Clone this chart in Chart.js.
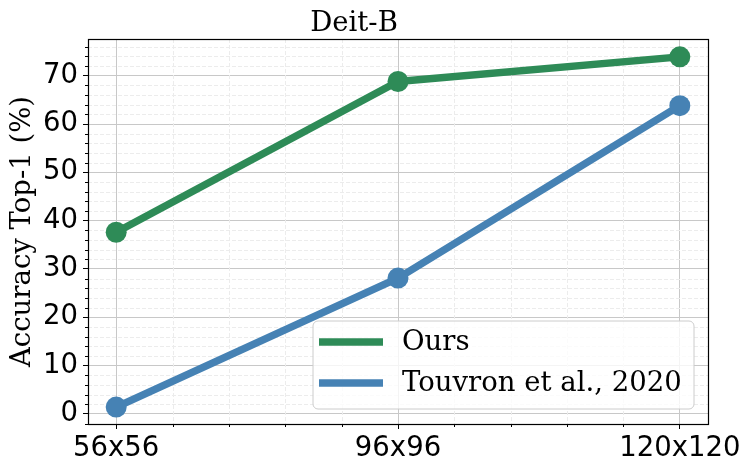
<!DOCTYPE html>
<html>
<head>
<meta charset="utf-8">
<script src="https://cdn.jsdelivr.net/npm/chart.js@4/dist/chart.umd.min.js"></script>
<style>
html,body{margin:0;padding:0;background:#fff;}
#wrap{width:751px;height:472px;}
</style>
</head>
<body>
<div id="wrap"><canvas id="c" width="751" height="472"></canvas></div>
<script>
const categories = ['56x56', '96x96', '120x120'];
const oursValues = [37.6, 68.8, 73.9];
const touvronValues = [1.4, 28.1, 63.8];
const yTicks = [0, 10, 20, 30, 40, 50, 60, 70];
const seriesLabels = ['Ours', 'Touvron et al., 2020'];
const seriesColors = ['#2e8b57', '#4682b4'];
const chartTitle = 'Deit-B';
const yAxisTitle = 'Accuracy Top-1 (%)';

const serif = "'DejaVu Serif', serif";
const sans = "'DejaVu Sans', sans-serif";

const toPoints = vals => vals.map((v, i) => ({x: i, y: v}));

const minorGrid = {
  id: 'minorGrid',
  beforeDatasetsDraw(chart) {
    const {ctx, chartArea: a, scales: {x, y}} = chart;
    ctx.save();
    ctx.strokeStyle = '#ececec';
    ctx.lineWidth = 1;
    ctx.setLineDash([4, 2]);
    const xs = [], ys = [];
    for (let k = -1; k <= 11; k++) { if (k % 5 !== 0) xs.push(k * 0.2); }
    for (let k = -1; k <= 39; k++) { if (k % 5 !== 0) ys.push(k * 2); }
    xs.forEach(v => {
      if (v < x.min || v > x.max) return;
      const px = Math.round(x.getPixelForValue(v)) + 0.5;
      ctx.beginPath(); ctx.moveTo(px, a.top); ctx.lineTo(px, a.bottom); ctx.stroke();
    });
    ys.forEach(v => {
      if (v < y.min || v > y.max) return;
      const py = Math.round(y.getPixelForValue(v)) + 0.5;
      ctx.beginPath(); ctx.moveTo(a.left, py); ctx.lineTo(a.right, py); ctx.stroke();
    });
    ctx.setLineDash([]);
    ctx.strokeStyle = '#000';
    xs.forEach(v => {
      if (v < x.min || v > x.max) return;
      const px = Math.round(x.getPixelForValue(v)) + 0.5;
      ctx.beginPath(); ctx.moveTo(px, a.bottom); ctx.lineTo(px, a.bottom + 3); ctx.stroke();
    });
    ys.forEach(v => {
      if (v < y.min || v > y.max) return;
      const py = Math.round(y.getPixelForValue(v)) + 0.5;
      ctx.beginPath(); ctx.moveTo(a.left, py); ctx.lineTo(a.left - 3, py); ctx.stroke();
    });
    ctx.restore();
  },
  afterDatasetsDraw(chart) {
    const {ctx, chartArea: a} = chart;
    ctx.save();
    ctx.strokeStyle = '#000';
    ctx.lineWidth = 1.2;
    ctx.strokeRect(Math.round(a.left) + 0.5, Math.round(a.top) + 0.5,
                   Math.round(a.right - a.left), Math.round(a.bottom - a.top));
    // legend
    const bw = 381, bh = 88;
    const bx = a.right - 14 - bw, by = a.bottom - 15 - bh;
    const r = 5;
    ctx.beginPath();
    ctx.moveTo(bx + r, by);
    ctx.arcTo(bx + bw, by, bx + bw, by + bh, r);
    ctx.arcTo(bx + bw, by + bh, bx, by + bh, r);
    ctx.arcTo(bx, by + bh, bx, by, r);
    ctx.arcTo(bx, by, bx + bw, by, r);
    ctx.closePath();
    ctx.fillStyle = 'rgba(255,255,255,0.8)';
    ctx.fill();
    ctx.strokeStyle = '#cccccc';
    ctx.lineWidth = 1;
    ctx.stroke();
    chart.data.datasets.forEach((ds, i) => {
      const cy = by + 22 + i * 41;
      ctx.strokeStyle = ds.borderColor;
      ctx.lineWidth = 7.5;
      ctx.lineCap = 'butt';
      ctx.beginPath(); ctx.moveTo(bx + 6, cy - 1); ctx.lineTo(bx + 70, cy - 1); ctx.stroke();
      ctx.fillStyle = '#000';
      ctx.font = "27.5px " + serif;
      ctx.textBaseline = 'middle';
      ctx.textAlign = 'left';
      ctx.fillText(ds.label, bx + 89, cy);
    });
    ctx.restore();
  }
};

new Chart(document.getElementById('c'), {
  type: 'line',
  data: {
    datasets: [
      {label: seriesLabels[0], data: toPoints(oursValues), borderColor: seriesColors[0], backgroundColor: seriesColors[0]},
      {label: seriesLabels[1], data: toPoints(touvronValues), borderColor: seriesColors[1], backgroundColor: seriesColors[1]}
    ].map(d => Object.assign(d, {
      borderWidth: 7.5, pointRadius: 10.5, pointBorderWidth: 0, pointHoverRadius: 10.5,
      pointBackgroundColor: d.borderColor, tension: 0, fill: false, borderJoinStyle: 'round'
    }))
  },
  options: {
    responsive: false,
    devicePixelRatio: 1,
    animation: false,
    events: [],
    layout: {padding: {left: 0, right: 43, top: 0, bottom: 0}},
    plugins: {
      legend: {display: false},
      tooltip: {enabled: false},
      title: {
        display: true, text: chartTitle, color: '#000',
        font: {family: serif, size: 27.5, weight: 'normal', lineHeight: 1},
        padding: {top: 10, bottom: 1.5}
      }
    },
    scales: {
      x: {
        type: 'linear', min: -0.1, max: 2.1,
        afterBuildTicks: s => { s.ticks = categories.map((c, i) => ({value: i})); },
        afterFit: s => { s.height = 48; },
        ticks: {
          callback: v => categories[v], color: '#000', maxRotation: 0, autoSkip: false,
          font: {family: sans, size: 27.5}, padding: 3
        },
        grid: {color: '#c8c8c8', lineWidth: 1, tickColor: '#000', tickLength: 5, tickWidth: 1},
        border: {display: false}
      },
      y: {
        type: 'linear', min: -2.1, max: 77.6,
        afterBuildTicks: s => { s.ticks = yTicks.map(v => ({value: v})); },
        afterFit: s => { s.width = 88; },
        ticks: {color: '#000', font: {family: sans, size: 27.5}, padding: 5},
        grid: {color: '#c8c8c8', lineWidth: 1, tickColor: '#000', tickLength: 5, tickWidth: 1},
        border: {display: false},
        title: {
          display: true, text: yAxisTitle, color: '#000',
          font: {family: serif, size: 27.5, weight: 'normal', lineHeight: 1.2},
          padding: {top: 6, bottom: 0}
        }
      }
    }
  },
  plugins: [minorGrid]
});
</script>
</body>
</html>
